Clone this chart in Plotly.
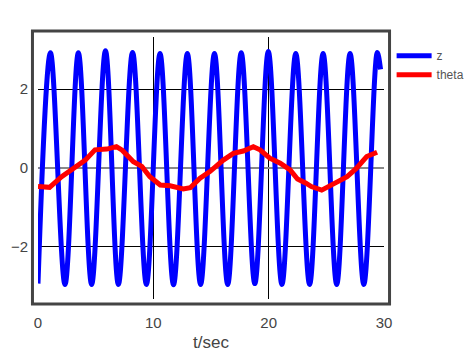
import plotly.graph_objects as go

# z: read extremes (peaks / troughs) of the oscillation, plus final point
z_t = [0.0, 1.08, 2.34, 3.5, 4.65, 5.85, 6.97, 8.2, 9.4, 10.58, 11.75, 12.95,
       14.1, 15.3, 16.45, 17.62, 18.8, 19.97, 21.15, 22.35, 23.55, 24.72,
       25.9, 27.06, 28.25, 29.42, 29.7]
z_val = [-2.93, 2.92, -2.95, 2.92, -2.95, 2.97, -2.95, 2.93, -2.95, 2.9, -2.96, 2.9,
         -2.95, 2.9, -2.95, 2.92, -2.93, 2.95, -2.95, 2.9, -2.95, 2.9,
         -2.95, 2.9, -2.95, 2.93, 2.5]

# theta: slow oscillation
theta_t = [0.0, 1.0, 2.05, 3.35, 4.1, 4.94, 5.96, 6.8, 7.3, 8.27, 9.0, 9.7,
           10.6, 11.45, 12.6, 13.2, 14.05, 14.9, 16.07, 16.94, 17.8, 18.67,
           19.25, 20.1, 21.0, 21.86, 22.5, 23.2, 23.7, 24.6, 25.6, 26.8,
           27.6, 28.5, 29.4]
theta_val = [-0.47, -0.49, -0.22, 0.06, 0.2, 0.46, 0.48, 0.54, 0.45, 0.16, 0.04, -0.22,
             -0.43, -0.45, -0.53, -0.5, -0.26, -0.09, 0.2, 0.37, 0.43, 0.54,
             0.46, 0.25, 0.12, -0.05, -0.28, -0.38, -0.47, -0.56, -0.39, -0.22,
             -0.01, 0.29, 0.40]

x_ticks = [0, 10, 20, 30]
y_ticks = [-2, 0, 2]

fig = go.Figure()
fig.add_trace(go.Scatter(x=z_t, y=z_val, mode="lines", name="z",
                         line=dict(color="#0000ff", width=5, shape="spline", smoothing=1)))
fig.add_trace(go.Scatter(x=theta_t, y=theta_val, mode="lines", name="theta",
                         line=dict(color="#ff0000", width=5)))

font_family = "Liberation Sans, Arial, sans-serif"
fig.update_layout(
    width=474, height=355,
    margin=dict(l=30, r=98, t=29, b=64, autoexpand=False),
    paper_bgcolor="white", plot_bgcolor="white",
    font=dict(family=font_family, color="#444", size=15),
    showlegend=True,
    legend=dict(x=1.022, y=0.984, xanchor="left", yanchor="top", itemwidth=35,
                font=dict(size=12, color="#555"), bgcolor="rgba(0,0,0,0)"),
    xaxis=dict(range=[0, 30], tickvals=x_ticks, showgrid=True, gridcolor="black",
               gridwidth=1, zeroline=False, showline=False, ticks="", automargin=False,
               tickfont=dict(size=15), ticklabelstandoff=13,
               title=dict(text="t/sec", font=dict(size=17), standoff=6)),
    yaxis=dict(range=[-3.32, 3.32], tickvals=y_ticks, showgrid=True, gridcolor="black",
               gridwidth=1, zeroline=True, zerolinecolor="#888", zerolinewidth=2,
               showline=False, ticks="", automargin=False, tickfont=dict(size=15),
               ticklabelstandoff=9),
    shapes=[dict(type="rect", xref="paper", yref="paper",
                 x0=-0.016, x1=1.016, y0=-0.019, y1=1.023,
                 line=dict(color="#444", width=3), layer="above")],
)

fig.write_html("out.html")
